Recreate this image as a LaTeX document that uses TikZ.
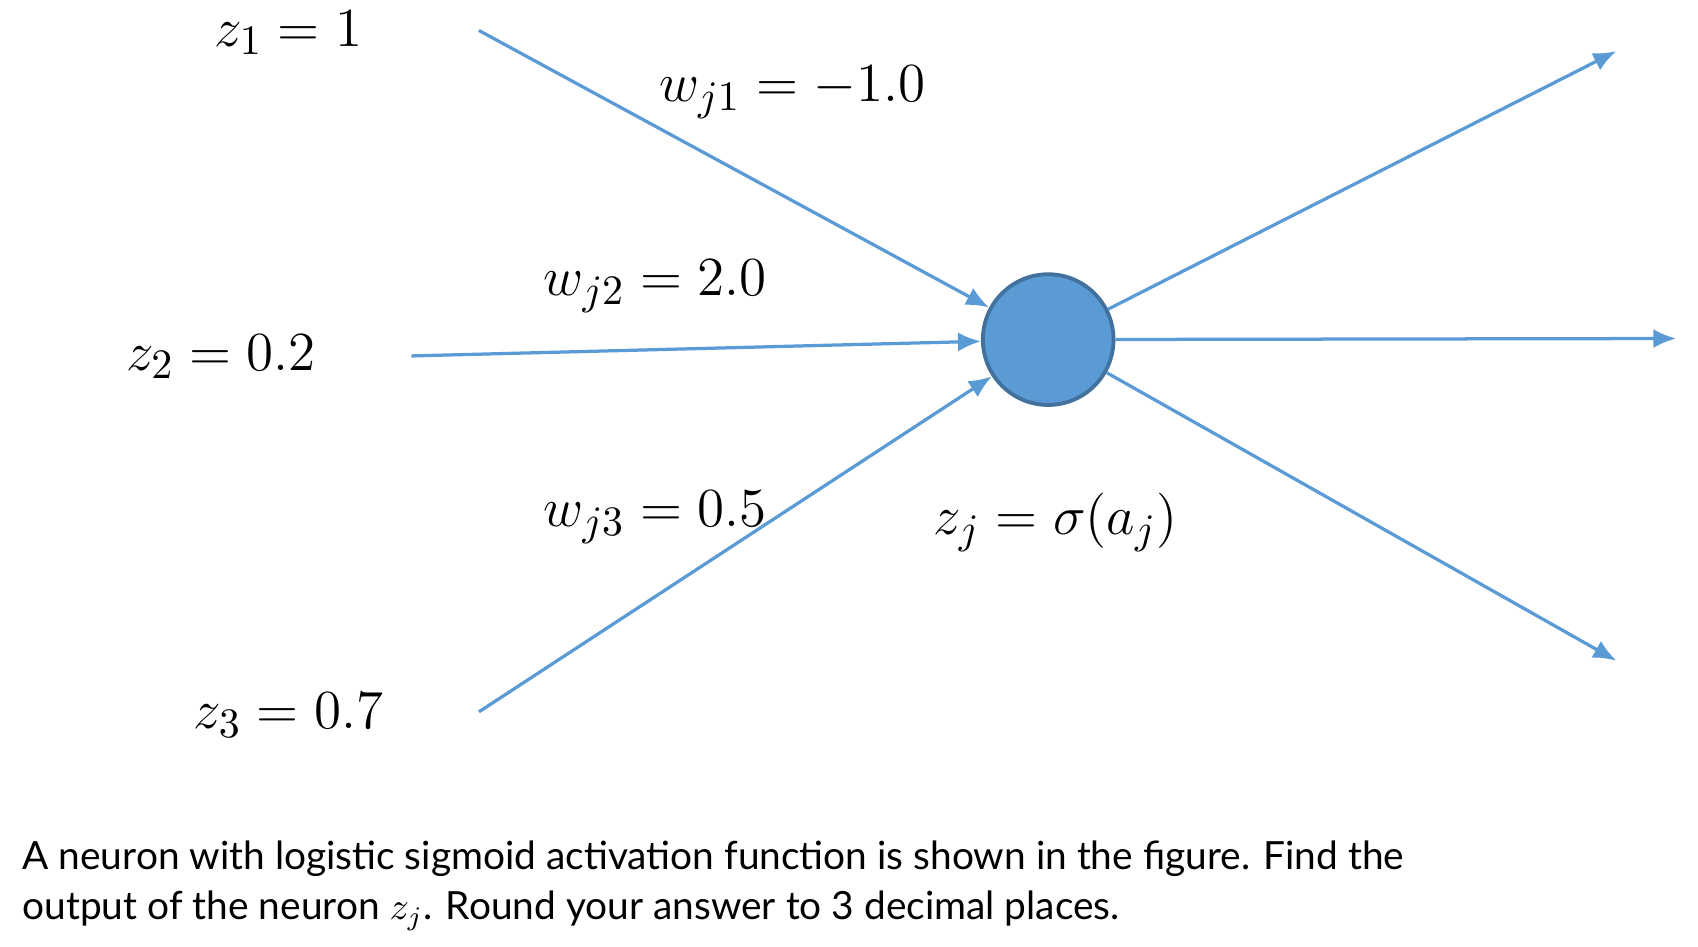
\documentclass[tikz,border=0pt]{standalone}
\usepackage{fontspec}
\newfontfamily\capfont{Lato}
\usetikzlibrary{arrows.meta}
\definecolor{lblue}{HTML}{5B9BD5}
\definecolor{dblue}{HTML}{41719C}
\begin{document}
\begin{tikzpicture}[x=0.01cm,y=-0.01cm,
  conn/.style={draw=lblue,line width=0.85pt,-{Latex[length=6pt,width=5pt]}},
  lab/.style={font=\fontsize{15.5}{18}\selectfont,inner sep=0pt},
  captext/.style={font=\capfont\fontsize{10.15}{13}\selectfont,anchor=north west,align=left,inner sep=0pt}]
\useasboundingbox (0,0) rectangle (1560,870);
\node[circle,fill=lblue,draw=dblue,line width=1pt,minimum size=1.2cm,inner sep=0pt] (n) at (963,312) {};
\coordinate (i1) at (440,28);
\coordinate (i2) at (378,327);
\coordinate (i3) at (440,654);
\coordinate (o1) at (1485,47);
\coordinate (o2) at (1540,311);
\coordinate (o3) at (1485,607);
\draw[conn] (i1) -- (n);
\draw[conn] (i2) -- (n);
\draw[conn] (i3) -- (n);
\draw[conn] (n) -- (o1);
\draw[conn] (n) -- (o2);
\draw[conn] (n) -- (o3);
\node[lab] (z1) at (265,30) {$z_1 = 1$};
\node[lab] (z2) at (203,328) {$z_2 = 0.2$};
\node[lab] (z3) at (265,657) {$z_3 = 0.7$};
\node[lab] (w1) at (728,85) {$w_{j1} = -1.0$};
\node[lab] (w2) at (602,263) {$w_{j2} = 2.0$};
\node[lab] (w3) at (602,475) {$w_{j3} = 0.5$};
\node[lab] (zj) at (970,480) {$z_j = \sigma(a_j)$};
\node[captext] (c) at (20,772) {A neuron with logistic sigmoid activation function is shown in the figure. Find the\\output of the neuron $z_j$. Round your answer to 3 decimal places.};
\end{tikzpicture}
\end{document}
